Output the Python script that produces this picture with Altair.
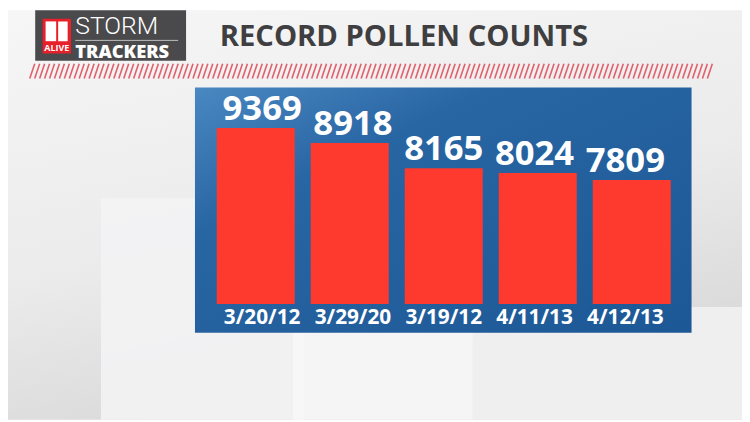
import altair as alt
import pandas as pd

dates = ["3/20/12", "3/29/20", "3/19/12", "4/11/13", "4/12/13"]
counts = [9369, 8918, 8165, 8024, 7809]
title_text = "RECORD POLLEN COUNTS"

df = pd.DataFrame({"date": dates, "count": counts})

W, H = 742, 414
FONT = "Open Sans"

def box(x, x2, y, y2, **kw):
    return alt.Chart(pd.DataFrame({"k": [0]})).mark_rect(**kw).encode(
        x=alt.value(x), x2=alt.value(x2), y=alt.value(y), y2=alt.value(y2))

def label(txt, x, y, **kw):
    return alt.Chart(pd.DataFrame({"t": [txt]})).mark_text(**kw).encode(
        x=alt.value(x), y=alt.value(y), text="t:N")

# background
bg = box(0, W, 0, H, color=alt.Gradient(
    gradient="linear", x1=0, y1=0, x2=0.35, y2=1,
    stops=[alt.GradientStop(offset=0, color="#f6f6f7"),
           alt.GradientStop(offset=0.6, color="#ebebec"),
           alt.GradientStop(offset=1, color="#d9d9da")]))
shape1 = box(94, 300, 190, H, color="#f3f3f4", opacity=0.9)
shape2 = box(288, 470, 300, H, color="#f7f7f8", opacity=0.9)
shape3 = box(470, W, 300, H, color="#f1f1f2", opacity=0.9)

# logo
logo_bg = box(27.5, 180, 0, 51, color="#4a4a4c")
logo_red = box(35, 63.7, 8.7, 43.7, color="#e8202a")
logo_w1 = box(38, 48.7, 11.3, 31.3, color="#ffffff")
logo_w2 = box(50.7, 60.3, 11.3, 31.3, color="#ffffff")
logo_alive = label("ALIVE", 49.3, 38.3, font=FONT, fontSize=9, fontWeight="bold",
                   color="#ffffff", align="center", baseline="middle")
logo_storm = label("STORM", 68, 24.5, font="Roboto", fontSize=25, fontWeight=300,
                   color="#ffffff", align="left", baseline="alphabetic")
logo_line = alt.Chart(pd.DataFrame({"k": [0]})).mark_rule(color="#bdbdbd", strokeWidth=1).encode(
    x=alt.value(68), x2=alt.value(172), y=alt.value(30.5), y2=alt.value(30.5))
logo_tr = label("TRACKERS", 68, 48, font=FONT, fontSize=18.5, fontWeight=800,
                color="#ffffff", align="left", baseline="alphabetic")

title = label(title_text, 214, 27, font=FONT, fontSize=29.5, fontWeight="bold",
              color="#3f3f41", align="left", baseline="middle")

# stripes
stripes = alt.Chart(alt.sequence(0, 138, as_="i")).transform_calculate(
    xa="22 + datum.i * 5", xb="27 + datum.i * 5"
).mark_rule(color="#e0606c", strokeWidth=1.6).encode(
    x=alt.X("xa:Q", scale=None, axis=None),
    x2="xb:Q",
    y=alt.value(69), y2=alt.value(54))

# blue panel
panel = box(189, 691, 78, 326, color=alt.Gradient(
    gradient="linear", x1=0, y1=0, x2=1, y2=1,
    stops=[alt.GradientStop(offset=0, color="#4a88c2"),
           alt.GradientStop(offset=0.3, color="#2865a3"),
           alt.GradientStop(offset=1, color="#1d5896")]))

xs = alt.Scale(domain=dates, range=[211, 670], paddingInner=0.17, paddingOuter=0)
ys = alt.Scale(domain=[4100, 9400], range=[297, 118])

base = alt.Chart(df).encode(
    x=alt.X("date:N", sort=None, scale=xs, axis=None),
)
bars = base.mark_bar(color="#fd3a2d").encode(
    y=alt.Y("count:Q", scale=ys, axis=None), y2=alt.datum(4100))
vals = base.mark_text(font=FONT, fontSize=35, fontWeight="bold", color="#ffffff",
                      baseline="alphabetic", dy=-8).encode(
    y=alt.Y("count:Q", scale=ys, axis=None), text="count:Q")
dlabels = base.mark_text(font=FONT, fontSize=21, fontWeight="bold", color="#ffffff",
                         baseline="middle").encode(
    y=alt.value(311), text="date:N")

chart = alt.layer(
    bg, shape1, shape2, shape3, logo_bg, logo_red, logo_w1, logo_w2, logo_alive,
    logo_storm, logo_line, logo_tr, title, stripes, panel, bars, vals, dlabels
).resolve_scale(x="independent", y="independent").properties(
    width=W, height=H, padding=0,
    autosize=alt.AutoSizeParams(type="none")
).configure_view(stroke=None)

chart.save("out.html", embed_options={"renderer": "svg", "actions": False})
